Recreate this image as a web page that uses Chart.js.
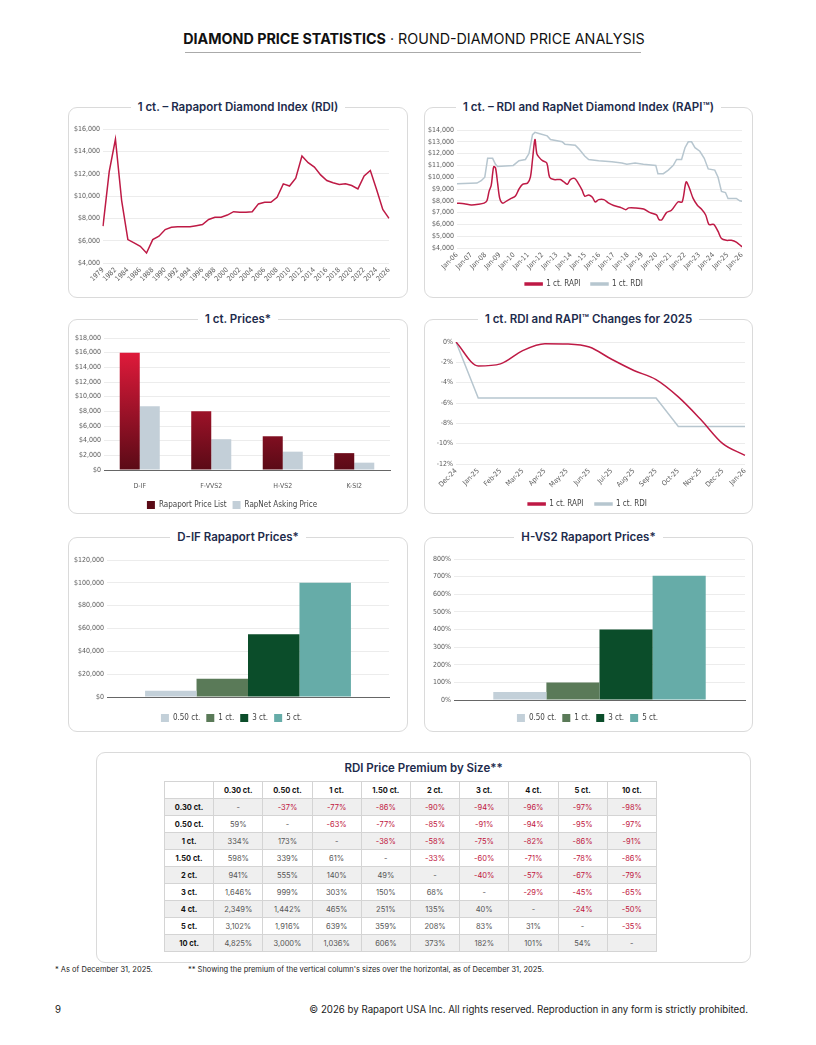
<!DOCTYPE html>
<html>
<head>
<meta charset="utf-8">
<script src="https://cdn.jsdelivr.net/npm/chart.js@4.4.1/dist/chart.umd.min.js"></script>
<style>
body { margin: 0; background: #fff; font-family: Inter, "Open Sans", sans-serif; }
#page { position: relative; width: 816px; height: 1045px; overflow: hidden; }
.hdr { position: absolute; left: 0; width: 816px; top: 31px; padding-left: 12px; box-sizing: border-box; text-align: center; font-size: 14.3px; color: #111; line-height: 16px; }
.hdr b { font-weight: 700; }
.hline { position: absolute; left: 185px; width: 456px; top: 52px; height: 1px; background: #aaa; }
.panel { position: absolute; border: 1px solid #dadada; border-radius: 9px; box-sizing: border-box; }
.panel h3 { position: absolute; top: -8px; left: 0; right: 0; margin: 0; text-align: center; font-size: 11.5px; font-weight: 600; color: #1d2b4c; line-height: 14px; }
.panel h3 span { background: #fff; padding: 0 7px; }
.box { position: absolute; }
table { position: absolute; left: 164px; top: 781px; width: 493px; border-collapse: collapse; table-layout: fixed; font-size: 7.5px; }
td, th { border: 1px solid #d4d4d4; height: 16px; padding: 0; text-align: center; color: #555; }
th { color: #111; font-weight: 700; }
td.neg { color: #c0143c; }
tr.sh td, tr.sh th { background: #efefef; }
.note { position: absolute; top: 965px; font-size: 7.5px; color: #222; }
.foot { position: absolute; top: 1004px; font-size: 9.7px; color: #222; }
</style>
</head>
<body>
<div id="page">
  <div class="hdr"><b>DIAMOND PRICE STATISTICS</b> · ROUND-DIAMOND PRICE ANALYSIS</div>
  <div class="hline"></div>

  <div class="panel" style="left:68px;top:107px;width:340px;height:191px"><h3><span>1 ct. – Rapaport Diamond Index (RDI)</span></h3></div>
  <div class="panel" style="left:424px;top:107px;width:329px;height:191px"><h3><span>1 ct. – RDI and RapNet Diamond Index (RAPI™)</span></h3></div>
  <div class="panel" style="left:68px;top:319px;width:340px;height:195px"><h3><span>1 ct. Prices*</span></h3></div>
  <div class="panel" style="left:424px;top:319px;width:329px;height:195px"><h3><span>1 ct. RDI and RAPI™ Changes for 2025</span></h3></div>
  <div class="panel" style="left:68px;top:537px;width:340px;height:195px"><h3><span>D-IF Rapaport Prices*</span></h3></div>
  <div class="panel" style="left:424px;top:537px;width:329px;height:195px"><h3><span>H-VS2 Rapaport Prices*</span></h3></div>
  <div class="panel" style="left:96px;top:752px;width:655px;height:211px"><h3 style="top:8px"><span>RDI Price Premium by Size**</span></h3></div>

  <div class="box" style="left:72px;top:122px;width:332px;height:172px"><canvas id="rdiChart"></canvas></div>
  <div class="box" style="left:424px;top:120px;width:327px;height:178px"><canvas id="rapiChart"></canvas></div>
  <div class="box" style="left:72px;top:328px;width:332px;height:191px"><canvas id="pricesChart"></canvas></div>
  <div class="box" style="left:428px;top:332px;width:323px;height:186px"><canvas id="changesChart"></canvas></div>
  <div class="box" style="left:72px;top:550px;width:332px;height:182px"><canvas id="difChart"></canvas></div>
  <div class="box" style="left:428px;top:549px;width:323px;height:183px"><canvas id="hvsChart"></canvas></div>

  <table id="premium"></table>

  <div class="note" style="left:55px">* As of December 31, 2025.</div>
  <div class="note" style="left:188px">** Showing the premium of the vertical column's sizes over the horizontal, as of December 31, 2025.</div>
  <div class="foot" style="left:55px">9</div>
  <div class="foot" style="right:68px">© 2026 by Rapaport USA Inc. All rights reserved. Reproduction in any form is strictly prohibited.</div>
</div>

<script>
// ==================== DATOS ====================
const rdiYears = ['1979','1981','1982','1983','1984','1985','1986','1987','1988','1989','1990','1991','1992','1993','1994','1995','1996','1997','1998','1999','2000','2001','2002','2003','2004','2005','2006','2007','2008','2009','2010','2011','2012','2013','2014','2015','2016','2017','2018','2019','2020','2021','2022','2023','2024','2025','2026'];
const rdiValues = [7300,12200,15100,9600,6100,5800,5500,4900,6100,6400,7000,7200,7250,7250,7250,7350,7450,7900,8100,8100,8300,8600,8550,8550,8600,9300,9450,9450,9900,11100,10900,11600,13600,13000,12600,11900,11400,11200,11050,11100,10950,10650,11800,12300,10600,8800,8000];

// RAPI / RDI monthly chart, x in years (2006 = Jan-06)
const rapiX = [2006.0,2006.5,2007.0,2007.5,2007.9,2008.1,2008.25,2008.4,2008.5,2008.58,2008.7,2008.85,2009.0,2009.2,2009.5,2009.8,2010.1,2010.35,2010.6,2010.95,2011.15,2011.3,2011.47,2011.6,2011.75,2012.0,2012.3,2012.5,2012.8,2013.25,2013.5,2013.75,2013.95,2014.25,2014.5,2014.78,2014.96,2015.25,2015.5,2015.7,2015.95,2016.3,2016.65,2017.0,2017.55,2017.85,2018.05,2018.5,2019.1,2019.55,2020.0,2020.18,2020.38,2020.7,2021.05,2021.5,2021.8,2022.08,2022.3,2022.57,2022.88,2023.15,2023.45,2023.68,2024.02,2024.32,2024.56,2024.9,2025.25,2025.6,2026.0];
const rapiValues = [7800,7750,7650,7700,7800,8000,8800,9300,10300,10900,10800,9500,8200,7800,8000,8200,8400,9000,9400,9500,10000,11500,13200,12000,11700,11400,11200,10000,9800,9800,9600,9400,9800,9900,9500,8900,8400,8500,8300,7900,8100,8100,7800,7600,7400,7250,7400,7400,7300,7000,6800,6400,6400,7000,7200,7900,7900,9600,9100,8200,7600,7300,6800,6000,6000,5400,4800,4650,4650,4500,4100];
const rdiMonthX = [2006.0,2007.4,2007.7,2007.95,2008.15,2008.5,2008.7,2008.85,2009.95,2010.35,2010.8,2011.05,2011.3,2011.47,2011.75,2012.33,2012.56,2013.38,2013.57,2014.3,2014.55,2014.96,2015.24,2015.94,2016.87,2017.57,2017.92,2018.5,2019.08,2019.95,2020.1,2020.48,2020.83,2021.18,2021.41,2021.76,2022.0,2022.23,2022.46,2022.7,2023.04,2023.35,2023.63,2024.09,2024.32,2024.56,2024.84,2025.02,2025.6,2025.84,2026.0];
const rdiMonthValues = [9450,9500,9700,10000,11600,11600,11100,10900,11000,11400,11500,12000,13600,13800,13700,13500,13200,13000,12800,12700,12400,11800,11500,11400,11300,11200,11100,11200,11100,11000,10300,10300,10600,11000,11500,11500,12500,13000,13000,12500,12200,11600,10700,10600,10000,8800,8700,8200,8200,8000,7950];

const qualities = ['D-IF', 'F-VVS2', 'H-VS2', 'K-SI2'];
const priceList = [16000, 8000, 4600, 2300];
const askingPrice = [8700, 4200, 2500, 1000];

const changeLabels = ['Dec-24','Jan-25','Feb-25','Mar-25','Apr-25','May-25','Jun-25','Jul-25','Aug-25','Sep-25','Oct-25','Nov-25','Dec-25','Jan-26'];
const rapiChange = [0,-2.35,-2.15,-0.85,-0.17,-0.2,-0.5,-1.7,-2.8,-3.7,-5.4,-7.6,-10.0,-11.15];
const rdiChange = [0,-5.5,-5.5,-5.5,-5.5,-5.5,-5.5,-5.5,-5.5,-5.5,-8.3,-8.3,-8.3,-8.3];

const sizeLabels = ['0.50 ct.', '1 ct.', '3 ct.', '5 ct.'];
const difPrices = [5500, 16000, 55000, 100000];
const hvsPrices = [45, 100, 400, 705];
const sizeColors = ['#c3d0d9', '#5a7a58', '#0b4d2a', '#66aca8'];

const tableSizes = ['0.30 ct.', '0.50 ct.', '1 ct.', '1.50 ct.', '2 ct.', '3 ct.', '4 ct.', '5 ct.', '10 ct.'];
const premiumRows = [
    ['-', '-37%', '-77%', '-86%', '-90%', '-94%', '-96%', '-97%', '-98%'],
    ['59%', '-', '-63%', '-77%', '-85%', '-91%', '-94%', '-95%', '-97%'],
    ['334%', '173%', '-', '-38%', '-58%', '-75%', '-82%', '-86%', '-91%'],
    ['598%', '339%', '61%', '-', '-33%', '-60%', '-71%', '-78%', '-86%'],
    ['941%', '555%', '140%', '49%', '-', '-40%', '-57%', '-67%', '-79%'],
    ['1,646%', '999%', '303%', '150%', '68%', '-', '-29%', '-45%', '-65%'],
    ['2,349%', '1,442%', '465%', '251%', '135%', '40%', '-', '-24%', '-50%'],
    ['3,102%', '1,916%', '639%', '359%', '208%', '83%', '31%', '-', '-35%'],
    ['4,825%', '3,000%', '1,036%', '606%', '373%', '182%', '101%', '54%', '-']
];

// ==================== ESTILO ====================
const RED = '#be1a45';
const GREY = '#b7c6cf';
const GRID = '#ececec';

Chart.defaults.font.family = '"Liberation Sans Narrow", "DejaVu Sans Condensed", Roboto, sans-serif';
Chart.defaults.font.size = 7;
Chart.defaults.color = '#5a5a5a';
Chart.defaults.animation = false;
Chart.defaults.maintainAspectRatio = false;
Chart.defaults.plugins.tooltip.enabled = false;

const money = v => '$' + Number(v).toLocaleString('en-US');

// fija el ancho del eje Y
function yWidth(w) {
    return s => { s.width = w; };
}
// fija el alto del eje X y quita el relleno de las etiquetas giradas
function xHeight(h) {
    return s => { s.height = h; s.paddingLeft = 0; s.paddingRight = 0; };
}

function yAxis(min, max, step, fmt, w) {
    return {
        min: min, max: max,
        grid: { color: GRID, drawTicks: false }, border: { display: false },
        ticks: { stepSize: step, autoSkip: false, padding: 3, callback: fmt },
        afterFit: yWidth(w)
    };
}

// leyenda de líneas: un poco más de espacio entre elementos
function spacedLabels(chart) {
    const items = Chart.defaults.plugins.legend.labels.generateLabels(chart);
    items.forEach((it, i) => {
        if (i < items.length - 1) it.text += '\u2002';
    });
    return items;
}

function lineLegend(pad) {
    return {
        position: 'bottom',
        labels: { boxWidth: 17, boxHeight: 2, padding: pad, font: { size: 8 }, color: '#444', generateLabels: spacedLabels }
    };
}

function boxLegend() {
    return {
        position: 'bottom',
        labels: { boxWidth: 8, boxHeight: 8, padding: 6, font: { size: 8 }, color: '#444' }
    };
}

// ==================== RDI ====================
new Chart(document.getElementById('rdiChart'), {
    type: 'line',
    data: {
        labels: rdiYears,
        datasets: [{ data: rdiValues, borderColor: RED, borderWidth: 1.5, pointRadius: 0, tension: 0 }]
    },
    options: {
        layout: { padding: { top: 7, right: 15, left: 2, bottom: 0 } },
        plugins: { legend: { display: false } },
        scales: {
            x: {
                grid: { display: false, drawTicks: false }, border: { display: false },
                ticks: {
                    autoSkip: false, minRotation: 45, maxRotation: 45, padding: 3,
                    callback: function (v, i) { return i % 2 === 0 ? this.getLabelForValue(v) : null; }
                },
                afterFit: xHeight(31)
            },
            y: yAxis(4000, 16000, 2000, money, 29)
        }
    }
});

// ==================== RAPI ====================
new Chart(document.getElementById('rapiChart'), {
    type: 'line',
    data: {
        datasets: [
            { label: '1 ct. RAPI', data: rapiX.map((x, i) => ({ x: x, y: rapiValues[i] })), borderColor: RED, backgroundColor: RED, borderWidth: 1.5, pointRadius: 0, tension: 0.3 },
            { label: '1 ct. RDI', data: rdiMonthX.map((x, i) => ({ x: x, y: rdiMonthValues[i] })), borderColor: GREY, backgroundColor: GREY, borderWidth: 1.5, pointRadius: 0, tension: 0 }
        ]
    },
    options: {
        layout: { padding: { top: 10, right: 9, left: 2, bottom: 0 } },
        plugins: { legend: lineLegend(7) },
        scales: {
            x: {
                type: 'linear', min: 2006, max: 2026,
                grid: { display: false, drawTicks: false }, border: { display: false },
                ticks: {
                    stepSize: 1, autoSkip: false, minRotation: 45, maxRotation: 45, padding: 3,
                    callback: v => 'Jan-' + String(v).slice(2)
                },
                afterFit: xHeight(25)
            },
            y: yAxis(4000, 14000, 1000, money, 31)
        }
    }
});

// ==================== 1 CT PRICES ====================
function redGradient(ctx) {
    const chart = ctx.chart;
    const area = chart.chartArea;
    if (!area) return '#c8102e';
    const g = chart.ctx.createLinearGradient(0, area.top, 0, area.bottom);
    g.addColorStop(0, '#ef1c3f');
    g.addColorStop(1, '#5a0a16');
    return g;
}

new Chart(document.getElementById('pricesChart'), {
    type: 'bar',
    data: {
        labels: qualities,
        datasets: [
            { label: 'Rapaport Price List', data: priceList, backgroundColor: redGradient },
            { label: 'RapNet Asking Price', data: askingPrice, backgroundColor: '#c3cfd8' }
        ]
    },
    options: {
        datasets: { bar: { categoryPercentage: 0.56, barPercentage: 1 } },
        layout: { padding: { top: 10, right: 14, left: 2, bottom: 0 } },
        plugins: { legend: boxLegend() },
        scales: {
            x: {
                grid: { display: false, drawTicks: false }, border: { display: true, color: '#666' },
                ticks: { padding: 12 },
                afterFit: xHeight(25)
            },
            y: yAxis(0, 18000, 2000, money, 30)
        }
    }
});

// ==================== CHANGES 2025 ====================
new Chart(document.getElementById('changesChart'), {
    type: 'line',
    data: {
        labels: changeLabels,
        datasets: [
            { label: '1 ct. RAPI', data: rapiChange, borderColor: RED, backgroundColor: RED, borderWidth: 1.5, pointRadius: 0, cubicInterpolationMode: 'monotone' },
            { label: '1 ct. RDI', data: rdiChange, borderColor: GREY, backgroundColor: GREY, borderWidth: 1.5, pointRadius: 0, tension: 0 }
        ]
    },
    options: {
        layout: { padding: { top: 10, right: 6, left: 2, bottom: 0 } },
        plugins: { legend: lineLegend(8) },
        scales: {
            x: {
                offset: false,
                grid: { display: false, drawTicks: false }, border: { display: false },
                ticks: { autoSkip: false, minRotation: 45, maxRotation: 45, padding: 3 },
                afterFit: xHeight(28)
            },
            y: yAxis(-12, 0, 2, v => v + '%', 26)
        }
    }
});

// ==================== D-IF / H-VS2 ====================
function sizeChart(id, values, max, step, fmt, w, rightPad, xh) {
    new Chart(document.getElementById(id), {
        type: 'bar',
        data: {
            labels: [''],
            datasets: sizeLabels.map((s, i) => ({ label: s, data: [values[i]], backgroundColor: sizeColors[i] }))
        },
        options: {
            datasets: { bar: { categoryPercentage: 0.73, barPercentage: 1 } },
            layout: { padding: { top: 10, right: rightPad, left: 2, bottom: 0 } },
            plugins: { legend: boxLegend() },
            scales: {
                x: {
                    grid: { display: false, drawTicks: false }, border: { display: true, color: '#666' },
                    ticks: { display: false },
                    afterFit: xHeight(xh)
                },
                y: yAxis(0, max, step, fmt, w)
            }
        }
    });
}

sizeChart('difChart', difPrices, 120000, 20000, money, 33, 15, 11);
sizeChart('hvsChart', hvsPrices, 800, 100, v => v + '%', 24, 6, 8);

// ==================== TABLA ====================
const table = document.getElementById('premium');
let html = '<tr><th></th>' + tableSizes.map(s => '<th>' + s + '</th>').join('') + '</tr>';
premiumRows.forEach((row, r) => {
    html += '<tr class="' + (r % 2 === 0 ? 'sh' : '') + '"><th>' + tableSizes[r] + '</th>';
    row.forEach(v => {
        const neg = v.length > 1 && v[0] === '-';
        html += '<td class="' + (neg ? 'neg' : '') + '">' + v + '</td>';
    });
    html += '</tr>';
});
table.innerHTML = html;
</script>
</body>
</html>
